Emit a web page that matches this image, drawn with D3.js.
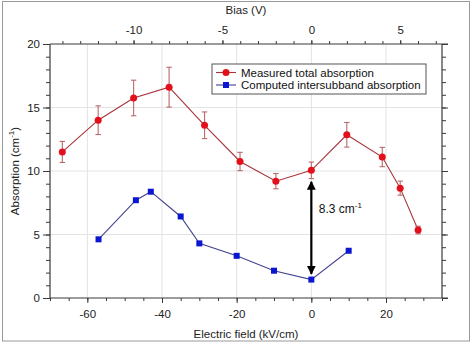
<!DOCTYPE html>
<html>
<head>
<meta charset="utf-8">
<script src="https://cdn.jsdelivr.net/npm/d3@7"></script>
<style>
  html, body { margin: 0; padding: 0; background: #ffffff; }
  svg { display: block; font-family: "Liberation Sans", Arial, sans-serif; }
</style>
</head>
<body>
<svg id="chart" width="474" height="343"></svg>
<script>
// ---- data ----
const measuredField = [-66.7, -57.1, -47.6, -38.1, -28.6, -19.1, -9.5, 0, 9.5, 19.0, 23.8, 28.6];
const measuredValue = [11.5, 14.0, 15.75, 16.6, 13.6, 10.75, 9.2, 10.05, 12.85, 11.1, 8.65, 5.35];
const measuredErr   = [0.83, 1.13, 1.4, 1.57, 1.05, 0.72, 0.6, 0.65, 0.97, 0.76, 0.55, 0.3];

const computedField = [-57, -47, -43, -35, -30, -20, -10, 0, 10];
const computedValue = [4.62, 7.7, 8.37, 6.42, 4.3, 3.32, 2.15, 1.45, 3.72];

const xTicks = [-60, -40, -20, 0, 20];
const yTicks = [0, 5, 10, 15, 20];
const biasTicks = [-10, -5, 0, 5];
const arrowField = 0;
const arrowFrom = 9.15;
const arrowTo = 1.9;
const arrowLabel = "8.3 cm";
const seriesNames = ["Measured total absorption", "Computed intersubband absorption"];

// ---- layout ----
const svg = d3.select("#chart");
const L = 50, R = 442, T = 44, B = 298;
const x = d3.scaleLinear().domain([-70, 35]).range([L, R]);
const y = d3.scaleLinear().domain([0, 20]).range([B, T]);
const fieldPerVolt = 4.762;
const xb = d3.scaleLinear().domain([-70 / fieldPerVolt, 35 / fieldPerVolt]).range([L, R]);
const fmt = d => String(d);

const axisColor = "#3a3a3a";
const gridColor = "#e3e3e3";
const redLine = "#a8343a";
const redErr = "#b86a6a";
const redDot = "#e3101c";
const blueLine = "#434391";
const blueDot = "#0a16d0";

// outer frame
svg.append("rect").attr("x", 2.5).attr("y", 1.5).attr("width", 467).attr("height", 339.5)
  .attr("fill", "none").attr("stroke", "#9a9a9a").attr("stroke-width", 1);

// grid
const grid = svg.append("g");
grid.selectAll(".gx").data(xTicks).join("line")
  .attr("x1", d => x(d)).attr("x2", d => x(d)).attr("y1", T).attr("y2", B)
  .attr("stroke", gridColor).attr("stroke-width", 1);
grid.selectAll(".gy").data(yTicks.filter(d => d > 0 && d < 20)).join("line")
  .attr("x1", L).attr("x2", R).attr("y1", d => y(d)).attr("y2", d => y(d))
  .attr("stroke", gridColor).attr("stroke-width", 1);

function styleAxis(g) {
  g.selectAll("path").remove();
  g.selectAll("line").attr("stroke", axisColor);
  g.selectAll("text").attr("fill", "#222").style("font-size", "11.5px")
    .style("font-family", "'Liberation Sans', Arial, sans-serif");
}

// bottom axis: minor then major
svg.append("g").attr("transform", `translate(0,${B})`)
  .call(d3.axisBottom(x).tickValues(d3.range(-70, 36, 5)).tickSize(3).tickFormat(""))
  .call(styleAxis);
svg.append("g").attr("transform", `translate(0,${B})`)
  .call(d3.axisBottom(x).tickValues(xTicks).tickSize(5).tickPadding(7).tickFormat(fmt))
  .call(styleAxis);

// top axis (bias)
svg.append("g").attr("transform", `translate(0,${T})`)
  .call(d3.axisTop(xb).tickValues(d3.range(-14, 8, 1)).tickSize(3).tickFormat(""))
  .call(styleAxis);
svg.append("g").attr("transform", `translate(0,${T})`)
  .call(d3.axisTop(xb).tickValues(biasTicks).tickSize(4).tickPadding(6).tickFormat(fmt))
  .call(styleAxis);

// left axis
svg.append("g").attr("transform", `translate(${L},0)`)
  .call(d3.axisLeft(y).tickValues(d3.range(0, 21, 1)).tickSize(4).tickFormat(""))
  .call(styleAxis);
svg.append("g").attr("transform", `translate(${L},0)`)
  .call(d3.axisLeft(y).tickValues(yTicks).tickSize(7).tickPadding(3).tickFormat(fmt))
  .call(styleAxis);

// right axis
svg.append("g").attr("transform", `translate(${R},0)`)
  .call(d3.axisRight(y).tickValues(d3.range(0, 21, 1)).tickSize(4).tickFormat(""))
  .call(styleAxis);
svg.append("g").attr("transform", `translate(${R},0)`)
  .call(d3.axisRight(y).tickValues(yTicks).tickSize(6).tickFormat(""))
  .call(styleAxis);

// axis lines
const frame = svg.append("g").attr("stroke", axisColor).attr("stroke-width", 1.2);
frame.append("line").attr("x1", L).attr("x2", R + 6).attr("y1", T).attr("y2", T);
frame.append("line").attr("x1", L).attr("x2", R + 6).attr("y1", B).attr("y2", B);
frame.append("line").attr("x1", L).attr("x2", L).attr("y1", T).attr("y2", B);
frame.append("line").attr("x1", R).attr("x2", R).attr("y1", T).attr("y2", B);

// axis titles
svg.append("text").attr("x", (L + R) / 2).attr("y", 338).attr("text-anchor", "middle")
  .style("font-size", "11.5px").attr("fill", "#222").text("Electric field (kV/cm)");
svg.append("text").attr("x", (L + R) / 2).attr("y", 14).attr("text-anchor", "middle")
  .style("font-size", "11.5px").attr("fill", "#222").text("Bias (V)");
const yl = svg.append("text").attr("transform", `translate(19,${(T + B) / 2}) rotate(-90)`)
  .attr("text-anchor", "middle").style("font-size", "11.5px").attr("fill", "#222");
yl.append("tspan").text("Absorption (cm");
yl.append("tspan").attr("dy", -5).style("font-size", "8px").text("-1");
yl.append("tspan").attr("dy", 5).text(")");

// measured series
const mData = measuredField.map((f, i) => ({ f, v: measuredValue[i], e: measuredErr[i] }));
const cData = computedField.map((f, i) => ({ f, v: computedValue[i] }));
const line = d3.line().x(d => x(d.f)).y(d => y(d.v));

svg.append("path").datum(mData).attr("d", line).attr("fill", "none")
  .attr("stroke", redLine).attr("stroke-width", 1.1);
const eb = svg.append("g").attr("stroke", redErr).attr("stroke-width", 1.1);
eb.selectAll(".ev").data(mData).join("line")
  .attr("x1", d => x(d.f)).attr("x2", d => x(d.f))
  .attr("y1", d => y(d.v - d.e)).attr("y2", d => y(d.v + d.e));
eb.selectAll(".et").data(mData).join("line")
  .attr("x1", d => x(d.f) - 2.7).attr("x2", d => x(d.f) + 2.7)
  .attr("y1", d => y(d.v + d.e)).attr("y2", d => y(d.v + d.e));
eb.selectAll(".eb").data(mData).join("line")
  .attr("x1", d => x(d.f) - 2.7).attr("x2", d => x(d.f) + 2.7)
  .attr("y1", d => y(d.v - d.e)).attr("y2", d => y(d.v - d.e));
svg.append("g").selectAll("circle").data(mData).join("circle")
  .attr("cx", d => x(d.f)).attr("cy", d => y(d.v)).attr("r", 3.5)
  .attr("fill", redDot);

// computed series
svg.append("path").datum(cData).attr("d", line).attr("fill", "none")
  .attr("stroke", blueLine).attr("stroke-width", 1.1);
svg.append("g").selectAll("rect").data(cData).join("rect")
  .attr("x", d => x(d.f) - 3).attr("y", d => y(d.v) - 3).attr("width", 6).attr("height", 6)
  .attr("fill", blueDot);

// arrow
const defs = svg.append("defs");
defs.append("marker").attr("id", "ah").attr("viewBox", "0 0 10 10").attr("refX", 9).attr("refY", 5)
  .attr("markerWidth", 4).attr("markerHeight", 4).attr("orient", "auto-start-reverse")
  .attr("markerUnits", "strokeWidth")
  .append("path").attr("d", "M0,0 L10,5 L0,10 z").attr("fill", "#000");
svg.append("line").attr("x1", x(arrowField)).attr("x2", x(arrowField))
  .attr("y1", y(arrowFrom)).attr("y2", y(arrowTo))
  .attr("stroke", "#000").attr("stroke-width", 2.2)
  .attr("marker-start", "url(#ah)").attr("marker-end", "url(#ah)");
const al = svg.append("text").attr("x", x(arrowField) + 7.5).attr("y", 213)
  .style("font-size", "12px").attr("fill", "#111");
al.append("tspan").text(arrowLabel);
al.append("tspan").attr("dy", -5).style("font-size", "8px").text("-1");

// legend
const lg = svg.append("g");
lg.append("rect").attr("x", 212).attr("y", 64).attr("width", 214).attr("height", 30)
  .attr("fill", "#fff").attr("stroke", "#555").attr("stroke-width", 1);
const rows = [
  { name: seriesNames[0], color: redLine, dot: redDot, shape: "circle", yy: 72.5 },
  { name: seriesNames[1], color: blueLine, dot: blueDot, shape: "square", yy: 85 }
];
rows.forEach(r => {
  lg.append("line").attr("x1", 216).attr("x2", 236).attr("y1", r.yy).attr("y2", r.yy)
    .attr("stroke", r.color).attr("stroke-width", 1.1);
  if (r.shape === "circle") {
    lg.append("circle").attr("cx", 226).attr("cy", r.yy).attr("r", 3.5).attr("fill", r.dot);
  } else {
    lg.append("rect").attr("x", 223).attr("y", r.yy - 3).attr("width", 6).attr("height", 6).attr("fill", r.dot);
  }
  lg.append("text").attr("x", 241).attr("y", r.yy + 4).style("font-size", "11.5px")
    .attr("fill", "#111").text(r.name);
});
</script>
</body>
</html>
